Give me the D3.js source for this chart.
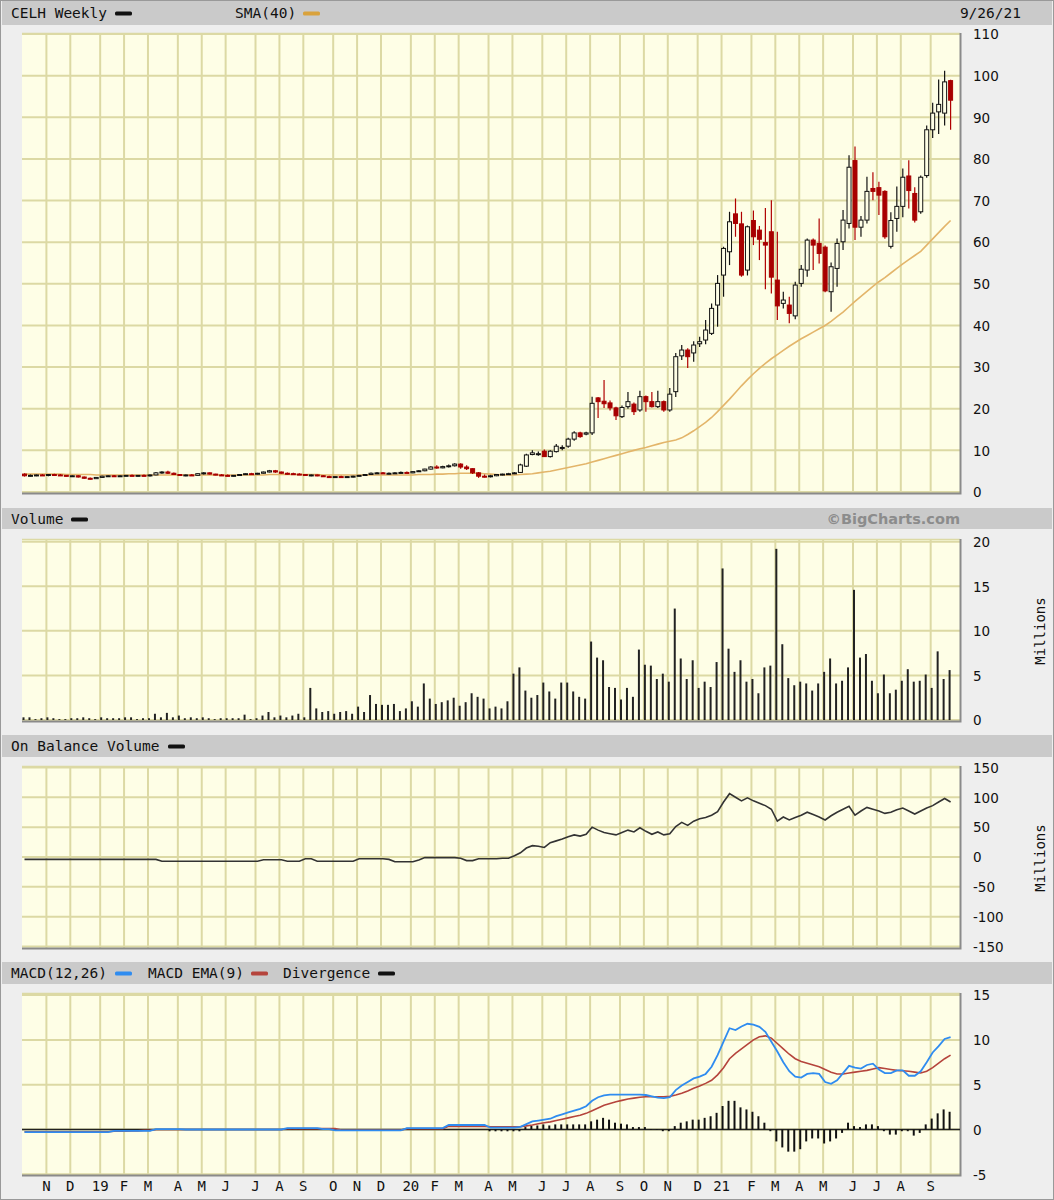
<!DOCTYPE html>
<html>
<head>
<meta charset="utf-8">
<script src="https://cdn.jsdelivr.net/npm/d3@7"></script>
<style>
  body { margin: 0; background: #fff; }
  svg { display: block; }
</style>
</head>
<body>
<svg id="chart" width="1054" height="1200"></svg>
<script>
// weekly bars, week of Oct 1 2018 .. week of Sep 20 2021
var open = [4.3,3.9,4.0,4.1,4.0,4.2,4.1,4.0,3.8,3.9, 3.6,3.3,3.2,3.5,3.8,3.9,3.8,3.9,4.0,3.9,
  4.0,3.9,4.1,4.6,4.8,4.5,4.2,4.0,4.1,4.0, 4.4,4.6,4.3,4.1,4.0,3.9,4.0,4.2,4.4,4.3,
  4.5,4.8,5.1,4.8,4.5,4.4,4.3,4.2,4.0,4.1, 3.9,3.7,3.6,3.7,3.6,3.7,3.8,4.0,4.2,4.5,
  4.6,4.4,4.5,4.6,4.7,4.6,4.9,5.1,5.5,6.0, 5.8,6.1,6.3,6.7,6.0,5.6,4.6,3.8,3.7,3.9,
  4.2,4.3,4.4,4.7,6.2,9.0,9.0,9.8,8.5,9.7, 10.5,11.0,12.7,14.2,13.9,14.2,22.6,21.8,21.4,20.2,
  18.1,20.5,21.1,19.7,22.9,21.7,20.5,21.7,19.7,24.1, 32.7,34.1,33.4,35.6,36.5,38.1,44.9,52.1,57.7,66.8,
  64.4,53.3,65.2,62.9,59.9,62.5,50.9,45.3,44.9,42.3, 50.1,53.3,60.5,59.7,58.8,48.1,53.7,60.1,64.5,79.6,
  63.6,65.3,72.9,73.1,72.2,59.0,65.7,68.6,75.9,71.7, 67.3,76.0,87.0,91.3,91.0,98.8];
var high = [4.5,4.2,4.2,4.3,4.3,4.4,4.3,4.1,4.0,4.0, 3.7,3.5,3.6,3.9,4.0,4.1,4.0,4.1,4.2,4.1,
  4.2,4.2,4.8,5.0,5.1,4.7,4.3,4.2,4.3,4.5, 4.8,4.7,4.4,4.3,4.2,4.1,4.3,4.5,4.6,4.6,
  4.9,5.3,5.3,4.9,4.7,4.6,4.5,4.3,4.2,4.2, 4.0,3.9,3.8,3.9,3.8,3.9,4.1,4.3,4.7,4.8,
  4.8,4.7,4.8,4.9,4.9,5.0,5.3,5.6,6.2,6.4, 6.3,6.6,6.9,6.9,6.4,5.7,4.8,4.2,4.1,4.3,
  4.4,4.6,4.8,6.8,9.2,10.0,9.7,10.2,10.0,11.5, 11.2,13.0,14.6,14.5,14.5,22.9,22.8,26.9,22.0,20.5,
  20.8,24.0,21.5,24.3,23.2,24.0,24.3,22.0,25.0,33.4, 35.3,34.5,36.2,37.3,41.3,45.3,52.1,58.9,67.3,70.5,
  67.3,64.0,67.6,63.9,68.2,70.1,62.5,48.1,46.9,50.5, 54.5,60.9,60.9,65.7,59.2,55.1,60.9,67.7,80.9,83.0,
  66.3,75.7,76.8,74.5,72.5,67.2,73.4,77.7,79.7,73.2, 76.0,88.0,93.5,99.1,101.2,99.0];
var low = [3.7,3.7,3.8,3.9,3.8,4.0,3.9,3.7,3.6,3.5, 3.2,3.0,3.1,3.4,3.6,3.7,3.6,3.7,3.8,3.7,
  3.8,3.7,4.0,4.4,4.3,4.1,3.9,3.8,3.9,3.9, 4.2,4.2,4.0,3.9,3.8,3.7,3.9,4.1,4.2,4.2,
  4.4,4.7,4.6,4.4,4.2,4.2,4.1,3.9,3.8,3.8, 3.6,3.5,3.4,3.5,3.4,3.5,3.7,3.9,4.1,4.3,
  4.3,4.2,4.3,4.4,4.5,4.5,4.8,5.0,5.4,5.6, 5.7,5.9,6.1,5.6,5.3,4.3,3.4,3.5,3.5,3.8,
  4.0,4.1,4.3,4.6,6.0,8.8,8.7,8.4,8.3,9.5, 10.0,10.6,12.3,13.0,13.6,13.7,17.8,20.2,19.6,17.3,
  17.8,20.0,18.5,19.3,19.3,20.3,20.2,19.3,19.3,22.8, 31.7,29.8,31.3,34.8,35.5,37.7,39.7,46.9,54.5,61.3,
  51.7,52.0,59.3,55.7,48.7,47.7,41.3,44.1,40.5,41.5, 49.3,51.7,53.3,54.9,48.0,43.3,49.3,58.1,63.3,60.5,
  61.3,64.5,70.1,66.5,60.8,58.5,62.5,66.0,68.1,64.7, 66.8,75.5,85.0,86.0,88.0,87.0];
var close = [3.9,4.0,4.1,4.0,4.2,4.1,4.0,3.8,3.9,3.6, 3.3,3.2,3.5,3.8,3.9,3.8,3.9,4.0,3.9,4.0,
  3.9,4.1,4.6,4.8,4.5,4.2,4.0,4.1,4.0,4.4, 4.6,4.3,4.1,4.0,3.9,4.0,4.2,4.4,4.3,4.5,
  4.8,5.1,4.8,4.5,4.4,4.3,4.2,4.0,4.1,3.9, 3.7,3.6,3.7,3.6,3.7,3.8,4.0,4.2,4.5,4.6,
  4.4,4.5,4.6,4.7,4.6,4.9,5.1,5.5,6.0,5.8, 6.1,6.3,6.7,6.0,5.6,4.6,3.8,3.7,3.9,4.2,
  4.3,4.4,4.6,6.5,8.9,9.4,9.2,8.5,9.8,11.0, 10.7,12.7,14.2,13.3,14.2,21.3,21.7,21.2,20.2,18.3,
  20.3,21.7,19.3,22.9,21.7,20.5,21.7,19.7,23.5,32.5, 34.1,32.5,35.3,36.1,38.9,44.1,50.1,58.5,64.9,64.5,
  52.1,63.7,61.3,60.7,59.3,51.6,44.7,46.1,42.9,49.7, 53.5,60.5,59.3,57.3,48.3,54.1,59.7,65.3,78.0,63.6,
  65.3,72.2,72.2,71.3,61.3,65.2,68.6,75.6,72.4,65.3, 75.6,87.0,91.0,93.1,98.5,94.1];
var sma40 = [4.3,4.3,4.3,4.3,4.3,4.3,4.3,4.2,4.2,4.2, 4.2,4.2,4.1,4.1,4.1,4.1,4.1,4.1,4.1,4.1,
  4.1,4.1,4.1,4.1,4.1,4.1,4.1,4.1,4.1,4.1, 4.1,4.1,4.1,4.1,4.1,4.1,4.1,4.1,4.1,4.1,
  4.1,4.2,4.2,4.2,4.2,4.2,4.2,4.2,4.2,4.2, 4.1,4.1,4.1,4.1,4.1,4.1,4.1,4.1,4.1,4.1,
  4.1,4.1,4.1,4.1,4.1,4.1,4.2,4.2,4.2,4.3, 4.3,4.4,4.4,4.5,4.5,4.5,4.5,4.4,4.3,4.2,
  4.1,4.1,4.1,4.2,4.3,4.4,4.6,4.8,5.0,5.3, 5.6,5.9,6.2,6.5,6.8,7.2,7.6,8.0,8.4,8.8,
  9.2,9.6,10.0,10.4,10.7,11.1,11.5,11.9,12.2,12.5, 13.0,13.8,14.7,15.7,16.7,17.9,19.3,20.8,22.3,23.9,
  25.5,27.0,28.4,29.7,30.9,32.0,33.0,34.0,35.0,35.9, 36.8,37.6,38.4,39.2,40.0,41.0,42.1,43.2,44.5,45.8,
  47.0,48.2,49.4,50.5,51.5,52.6,53.7,54.8,55.8,56.8, 57.8,59.3,60.8,62.3,63.8,65.2];
// volume, millions of shares
var volume = [0.3,0.3,0.1,0.2,0.3,0.2,0.1,0.1,0.2,0.2, 0.3,0.2,0.1,0.3,0.2,0.2,0.2,0.3,0.3,0.1,
  0.2,0.2,0.7,0.3,0.8,0.3,0.5,0.2,0.3,0.2, 0.3,0.2,0.1,0.2,0.2,0.2,0.2,0.6,0.1,0.2,
  0.5,0.9,0.3,0.5,0.3,0.5,0.7,0.3,3.6,1.3, 0.9,1.0,0.7,0.9,1.0,0.7,1.5,0.9,2.8,1.8,
  1.7,1.7,1.8,1.0,1.3,2.1,1.5,4.1,2.4,1.8, 2.0,2.2,2.5,1.6,2.0,3.0,2.6,2.4,1.3,1.5,
  1.3,2.1,5.2,5.9,3.3,2.5,2.8,4.2,3.2,2.4, 4.2,4.2,3.2,2.6,2.4,8.8,7.0,6.7,3.7,3.6,
  2.3,3.6,2.6,7.9,6.2,6.1,4.6,5.2,4.3,12.5, 6.9,4.6,6.7,3.6,4.3,3.7,6.5,17.0,8.0,5.4,
  6.7,4.3,4.6,3.0,5.9,6.1,19.2,8.5,4.7,3.9, 4.3,4.1,3.3,4.1,5.4,6.9,4.1,4.4,5.9,14.6,
  7.0,7.4,4.4,3.0,5.1,3.0,3.4,4.4,5.7,4.3, 4.4,5.1,3.6,7.7,4.6,5.6];
// on balance volume, millions
var obv = [-4,-4,-4,-4,-4,-4,-4,-4,-4,-4, -4,-4,-4,-4,-4,-4,-4,-4,-4,-4,
  -4,-4,-4,-7,-7,-7,-7,-7,-7,-7, -7,-7,-7,-7,-7,-7,-7,-7,-7,-7,
  -4.5,-4.5,-4.5,-4.5,-7,-7,-7,-3,-3,-7, -7,-7,-7,-7,-7,-7,-3,-3,-3,-3,
  -3,-4,-8,-8,-8,-8,-5,-1,-1,-1, -1,-1,-1,-2,-6,-6,-3,-3,-3,-3,
  -2,-2,2,7,15,19,18,16,24,27, 30,34,37,35,38,50,45,41,39,37,
  41,45,42,49,43,38,42,37,39,51, 58,53,60,64,66,70,76,92,106,100,
  94,99,94,90,86,80,60,67,62,66, 70,75,71,67,62,69,75,80,85,70,
  77,83,80,77,73,75,79,82,77,72, 77,82,86,92,98,92];
var macd = [-0.3,-0.3,-0.3,-0.3,-0.3,-0.3,-0.3,-0.3,-0.3,-0.3, -0.3,-0.3,-0.3,-0.3,-0.3,-0.15,-0.15,-0.15,-0.15,-0.15,
  -0.15,-0.15,0.05,0.05,0.05,0.05,0.05,0,0,0, 0,0,0,0,0,0,0,0,0,0,
  0,0,0,0,0.15,0.15,0.15,0.15,0.15,0.15, 0.05,0.05,-0.1,-0.1,-0.1,-0.1,-0.1,-0.1,-0.1,-0.1,
  -0.1,-0.1,-0.1,-0.1,0.15,0.15,0.15,0.15,0.15,0.15, 0.15,0.5,0.5,0.5,0.5,0.5,0.5,0.5,0.2,0.2,
  0.2,0.2,0.2,0.3,0.6,0.9,1.0,1.1,1.2,1.5, 1.7,1.9,2.1,2.3,2.6,3.2,3.6,3.8,3.9,3.9,
  3.9,3.9,3.9,3.9,3.85,3.7,3.55,3.5,3.6,4.4, 4.9,5.3,5.7,5.9,6.2,7.0,8.3,9.8,11.3,11.1,
  11.5,11.8,11.7,11.45,10.9,9.8,8.7,7.5,6.5,5.9, 5.8,6.2,6.3,6.2,5.3,5.1,5.5,6.3,7.1,6.9,
  6.8,7.2,7.35,6.7,6.3,6.3,6.6,6.6,6.0,6.0, 6.5,7.5,8.6,9.3,10.1,10.3];
var macdEma = [-0.25,-0.25,-0.25,-0.25,-0.25,-0.25,-0.25,-0.25,-0.25,-0.25, -0.25,-0.25,-0.25,-0.25,-0.25,-0.2,-0.2,-0.2,-0.15,-0.15,
  -0.1,-0.1,0,0,0,0,0,0,0,0, 0,0,0,0,0,0,0,0,0,0,
  0,0,0,0,0.1,0.1,0.1,0.1,0.1,0.1, 0.1,0.1,0.1,-0.05,-0.05,-0.05,-0.05,-0.05,-0.05,-0.05,
  -0.05,-0.05,-0.05,-0.05,0.1,0.1,0.1,0.1,0.1,0.1, 0.1,0.35,0.35,0.35,0.35,0.35,0.35,0.35,0.3,0.3,
  0.3,0.3,0.3,0.3,0.4,0.5,0.65,0.75,0.85,1.0, 1.15,1.3,1.45,1.6,1.8,2.1,2.4,2.7,2.9,3.1,
  3.25,3.4,3.5,3.6,3.65,3.65,3.65,3.65,3.7,3.85, 4.05,4.3,4.6,4.85,5.15,5.5,6.1,6.9,7.9,8.5,
  9.0,9.5,10.0,10.35,10.45,10.2,9.6,9.0,8.4,7.9, 7.6,7.4,7.2,7.0,6.7,6.4,6.2,6.2,6.3,6.4,
  6.5,6.6,6.75,6.9,6.8,6.7,6.6,6.55,6.5,6.4, 6.3,6.5,6.9,7.4,7.9,8.3];
var divergence = [0,0,0,0,0,0,0,0,0,0, 0,0,0,0,0,0,0,0,0,0,
  0,0,0,0,0,0,0,0,0,0, 0,0,0,0,0,0,0,0,0,0,
  0,0,0,0,0.1,0.1,0.1,0.1,0,0, 0,0,-0.1,0,0,0,0,0,0,0,
  0,0,0,0,0,0,0,0,0,0, 0,0,0,0,0,0,0,0,-0.2,-0.2,
  -0.2,-0.2,-0.2,-0.2,0.27,0.4,0.45,0.57,0.45,0.57, 0.57,0.57,0.57,0.57,0.57,0.91,1.1,1.3,1.1,0.76,
  0.65,0.57,0.27,0.27,0.27,0.05,-0.05,-0.19,-0.19,0.38, 0.76,0.91,1.1,1.1,1.3,1.48,1.86,2.62,3.2,3.2,
  2.47,2.24,1.98,1.48,0.76,-0.19,-1.33,-2.0,-2.47,-2.47, -2.2,-1.33,-1.0,-1.0,-1.56,-1.33,-1.0,-0.38,0.76,0.38,
  0.27,0.57,0.57,0.38,-0.19,-0.57,-0.57,-0.19,-0.19,-0.68, -0.38,0.57,1.22,1.8,2.24,1.98];
var monthLabels = ["N","D","19","F","M","A","M","J","J","A","S","O","N","D",
  "20","F","M","A","M","J","J","A","S","O","N","D","21","F","M","A","M","J","J","A","S"];
var priceTicks = [0,10,20,30,40,50,60,70,80,90,100,110];
var volTicks = [0,5,10,15,20];
var obvTicks = [-150,-100,-50,0,50,100,150];
var macdTicks = [-5,0,5,10,15];

var BG = "#eeeeee", BAND = "#cacaca", PLOT = "#fefee6", GRID = "#dcd9a4";
var MONO = "'DejaVu Sans Mono', monospace", SANS = "'DejaVu Sans', Verdana, sans-serif";
var PL = 22, PR = 960;

var svg = d3.select("#chart");
svg.append("rect").attr("width", 1054).attr("height", 1200).attr("fill", BG);

var weeks = d3.timeMonday.range(new Date(2018, 9, 1), new Date(2021, 8, 21));
var x = d3.scaleLinear().domain([0, weeks.length - 1]).range([24.5, 950.6]);

// gridline at the week holding the 1st of each month (skip the first, it sits on the edge)
var monthIdx = [];
weeks.forEach(function(d, i) {
  if (i > 0 && d3.timeMonth.ceil(d) < d3.timeDay.offset(d, 7)) monthIdx.push(i);
});

var panels = [
  {name: "price", top: 33, bottom: 493, y: d3.scaleLinear().domain([0, 110]).range([492, 34]), ticks: priceTicks},
  {name: "vol", top: 539, bottom: 721, y: d3.scaleLinear().domain([0, 20]).range([720, 541.7]), ticks: volTicks},
  {name: "obv", top: 766, bottom: 948, y: d3.scaleLinear().domain([-150, 150]).range([946.6, 767.4]), ticks: obvTicks},
  {name: "macd", top: 993, bottom: 1175, y: d3.scaleLinear().domain([-5, 15]).range([1174.3, 995.1]), ticks: macdTicks}
];

panels.forEach(function(p) {
  var g = svg.append("g");
  g.append("rect").attr("x", PL).attr("y", p.top).attr("width", PR - PL).attr("height", p.bottom - p.top)
    .attr("fill", PLOT);
  g.selectAll(".vg").data(monthIdx).enter().append("line")
    .attr("x1", function(i) { return x(i) - 2; }).attr("x2", function(i) { return x(i) - 2; })
    .attr("y1", p.top).attr("y2", p.bottom)
    .attr("stroke", GRID).attr("stroke-width", 2);
  g.selectAll(".hg").data(p.ticks).enter().append("line")
    .attr("x1", PL).attr("x2", PR)
    .attr("y1", function(t) { return p.y(t); }).attr("y2", function(t) { return p.y(t); })
    .attr("stroke", GRID).attr("stroke-width", 2);
  g.append("line").attr("x1", PL).attr("x2", PR).attr("y1", p.top + 0.5).attr("y2", p.top + 0.5)
    .attr("stroke", GRID).attr("stroke-width", 1.5);
  g.append("path").attr("d", "M" + PL + "," + (p.bottom + 0.5) + "H" + (PR + 0.5) + "V" + p.top)
    .attr("fill", "none").attr("stroke", "#8a8a8a").attr("stroke-width", 2);

  var ax = d3.axisRight(p.y).tickValues(p.ticks).tickSize(0).tickPadding(0)
    .tickFormat(function(d) { return d < 0 ? "-" + Math.abs(d) : d; });
  var ag = svg.append("g").attr("transform", "translate(973,0)").call(ax);
  ag.select(".domain").remove();
  ag.selectAll("text").attr("font-family", SANS).attr("font-size", 13.5).attr("fill", "#111")
    .attr("text-anchor", "start").attr("dy", "0.35em").attr("x", 0);
  p.g = g;
});

function P(name) { return panels.filter(function(p) { return p.name === name; })[0]; }

// price candles
var pr = P("price");
var sma = d3.line().x(function(d, i) { return x(i); }).y(function(d) { return pr.y(d); });
pr.g.append("path").datum(sma40).attr("d", sma).attr("fill", "none")
  .attr("stroke", "#e3b56a").attr("stroke-width", 1.6);

var candles = pr.g.selectAll(".c").data(d3.range(weeks.length)).enter().append("g");
candles.append("line")
  .attr("x1", function(i) { return x(i); }).attr("x2", function(i) { return x(i); })
  .attr("y1", function(i) { return pr.y(high[i]); }).attr("y2", function(i) { return pr.y(low[i]); })
  .attr("stroke", function(i) { return close[i] >= open[i] ? "#111" : "#b00000"; })
  .attr("stroke-width", 1.2);
candles.append("rect")
  .attr("x", function(i) { return x(i) - 2; }).attr("width", 4)
  .attr("y", function(i) { return pr.y(Math.max(open[i], close[i])); })
  .attr("height", function(i) { return Math.max(1, Math.abs(pr.y(open[i]) - pr.y(close[i]))); })
  .attr("fill", function(i) { return close[i] >= open[i] ? PLOT : "#a80000"; })
  .attr("stroke", function(i) { return close[i] >= open[i] ? "#111" : "#a80000"; })
  .attr("stroke-width", 1);

// volume
var vp = P("vol");
vp.g.selectAll(".v").data(volume).enter().append("line")
  .attr("x1", function(d, i) { return x(i) - 1; }).attr("x2", function(d, i) { return x(i) - 1; })
  .attr("y1", vp.y(0)).attr("y2", function(d) { return vp.y(d); })
  .attr("stroke", "#222").attr("stroke-width", 2);

// on balance volume
var op = P("obv");
op.g.append("path").datum(obv)
  .attr("d", d3.line().x(function(d, i) { return x(i); }).y(function(d) { return op.y(d); }))
  .attr("fill", "none").attr("stroke", "#333").attr("stroke-width", 1.6);

// macd
var mp = P("macd");
mp.g.append("line").attr("x1", PL).attr("x2", PR).attr("y1", mp.y(0)).attr("y2", mp.y(0))
  .attr("stroke", "#222").attr("stroke-width", 1.5);
mp.g.selectAll(".d").data(divergence).enter().append("line")
  .attr("x1", function(d, i) { return x(i) - 1; }).attr("x2", function(d, i) { return x(i) - 1; })
  .attr("y1", mp.y(0)).attr("y2", function(d) { return mp.y(d); })
  .attr("stroke", "#111").attr("stroke-width", 2);
var ml = d3.line().x(function(d, i) { return x(i); }).y(function(d) { return mp.y(d); });
mp.g.append("path").datum(macdEma).attr("d", ml).attr("fill", "none")
  .attr("stroke", "#b5443c").attr("stroke-width", 1.6);
mp.g.append("path").datum(macd).attr("d", ml).attr("fill", "none")
  .attr("stroke", "#2f8cf0").attr("stroke-width", 1.8);

// month labels
svg.selectAll(".ml").data(monthIdx).enter().append("text")
  .attr("x", function(i) { return x(i) - 2; }).attr("y", 1191)
  .attr("text-anchor", "middle").attr("font-family", MONO).attr("font-size", 14).attr("fill", "#111")
  .text(function(d, k) { return monthLabels[k]; });

// header bands with legends
function band(y0, h, base, items) {
  svg.append("rect").attr("x", 2).attr("y", y0).attr("width", 1050).attr("height", h).attr("fill", BAND);
  items.forEach(function(it) {
    if (it.text) {
      svg.append("text").attr("x", it.x).attr("y", base).attr("font-family", MONO).attr("font-size", 14.5)
        .attr("fill", "#111").text(it.text);
    } else {
      svg.append("rect").attr("x", it.x).attr("y", base - 6.5).attr("width", 17).attr("height", 4)
        .attr("rx", 1.5).attr("fill", it.color);
    }
  });
}
band(1, 24, 18, [{text: "CELH Weekly", x: 11}, {x: 115, color: "#111"},
  {text: "SMA(40)", x: 235}, {x: 303, color: "#d9a23c"}]);
svg.append("text").attr("x", 1021).attr("y", 18).attr("text-anchor", "end")
  .attr("font-family", MONO).attr("font-size", 14.5).attr("fill", "#111").text("9/26/21");
band(508, 21, 524, [{text: "Volume", x: 11}, {x: 71, color: "#111"}]);
svg.append("text").attr("x", 960).attr("y", 524).attr("text-anchor", "end")
  .attr("font-family", SANS).attr("font-weight", "bold").attr("font-size", 14.5).attr("fill", "#8c8c8c")
  .text("\u00a9BigCharts.com");
band(735, 22, 751, [{text: "On Balance Volume", x: 11}, {x: 168, color: "#111"}]);
band(962, 22, 978, [{text: "MACD(12,26)", x: 11}, {x: 115, color: "#2f8cf0"},
  {text: "MACD EMA(9)", x: 148}, {x: 251, color: "#b5443c"},
  {text: "Divergence", x: 283}, {x: 378, color: "#111"}]);

// unit labels
[[631, "Millions"], [858, "Millions"]].forEach(function(m) {
  svg.append("text").attr("transform", "translate(1045," + m[0] + ") rotate(-90)")
    .attr("text-anchor", "middle").attr("font-family", MONO).attr("font-size", 14).attr("fill", "#111")
    .text(m[1]);
});

svg.append("rect").attr("x", 0.5).attr("y", 0.5).attr("width", 1053).attr("height", 1199)
  .attr("fill", "none").attr("stroke", "#999");
</script>
</body>
</html>
